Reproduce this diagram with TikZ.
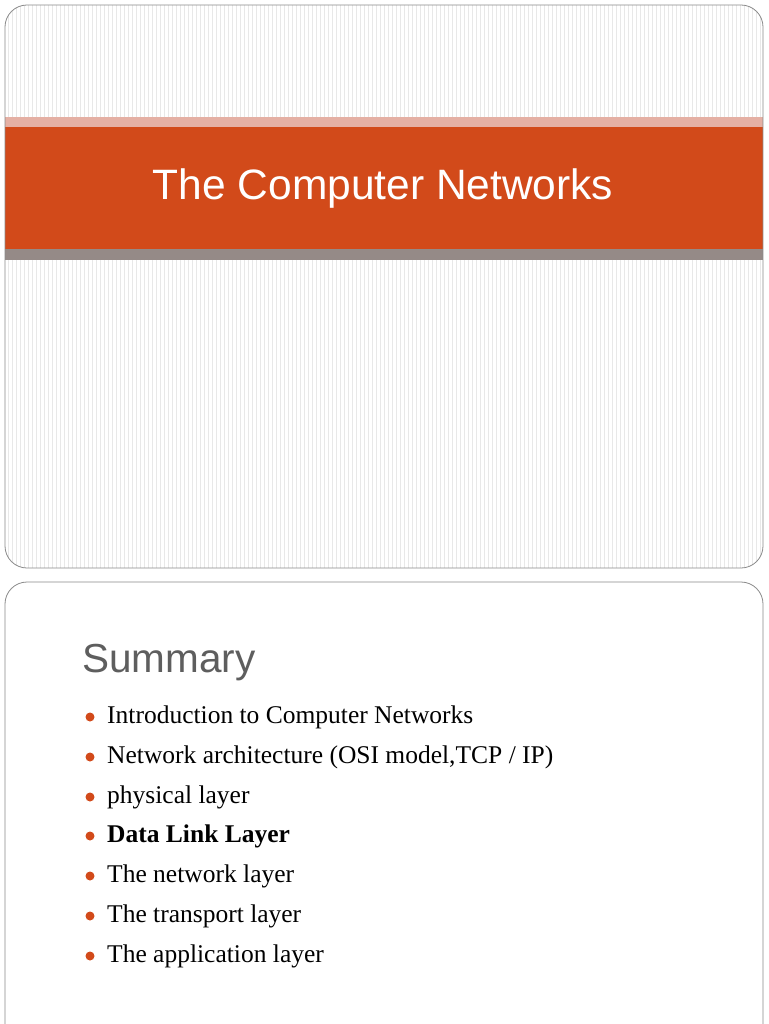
\documentclass[tikz,border=0pt]{standalone}
\usepackage{fontspec}
\setmainfont{Liberation Serif}
\newfontfamily\titlefont{Liberation Sans}
\definecolor{orng}{HTML}{D24A1A}
\definecolor{pinkb}{HTML}{E5B0A4}
\definecolor{grayb}{HTML}{958A87}
\definecolor{stripe}{HTML}{E8E8E8}
\definecolor{sumgray}{HTML}{5E5E5E}
\definecolor{bord}{HTML}{8A8A8A}
\tikzset{bul/.style={anchor=west,font=\fontsize{25.5}{30}\selectfont,text=black,inner sep=0pt},
dot/.style={circle,fill=orng,inner sep=0pt,minimum size=9pt}}
\begin{document}
\begin{tikzpicture}[x=1pt,y=-1pt]
\useasboundingbox (0,0) rectangle (768,1024);
\fill[white] (0,0) rectangle (768,1024);
\begin{scope}
\clip[rounded corners=22pt] (5,5) rectangle (763,568);
\foreach \x in {8,12,...,760}{\draw[stripe,line width=0.6pt] (\x,5)--(\x,568);}
\fill[pinkb] (5,117) rectangle (763,127);
\fill[orng] (5,127) rectangle (763,249);
\fill[grayb] (5,249) rectangle (763,260);
\end{scope}
\draw[bord,line width=0.8pt,rounded corners=22pt] (5,5) rectangle (763,568);
\node[text=white,font=\titlefont\fontsize{42.5}{46}\selectfont] (title) at (383,189) {The Computer Networks};
\draw[bord,line width=0.8pt,rounded corners=22pt] (5,1040) -- (5,582) -- (763,582) -- (763,1040);
\node[anchor=west,inner sep=0pt,text=sumgray,font=\titlefont\fontsize{40.5}{44}\selectfont] (sum) at (82,663) {Summary};
\foreach \y/\t [count=\i] in {717/Introduction to Computer Networks,757/{Network architecture (OSI model,TCP / IP)},797/physical layer,836/\textbf{Data Link Layer},876/The network layer,916/The transport layer,956/The application layer}{
\node[dot] (d\i) at (90,\y) {};
\node[bul] (b\i) at (107,\y) {\t};
}
\end{tikzpicture}
\end{document}
